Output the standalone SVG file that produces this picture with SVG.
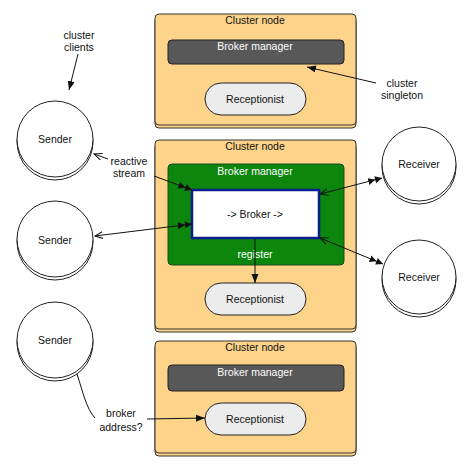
<svg xmlns="http://www.w3.org/2000/svg" width="474" height="474" viewBox="0 0 474 474">
<style>
text{font-family:"Liberation Sans",Arial,sans-serif;font-size:10.5px;text-anchor:middle;fill:#111}
.node{fill:#fed48b;stroke:#333;stroke-width:1}
.bar{fill:#585858;stroke:#222;stroke-width:1}
.green{fill:#0d860d;stroke:#1a4d1a;stroke-width:1}
.rec{fill:#ececec;stroke:#222;stroke-width:1}
.circ{fill:#fff;stroke:#222;stroke-width:1}
.w{fill:#fff}
.edge{fill:none;stroke:#111;stroke-width:1}
</style>
<defs>
<marker id="fa" markerUnits="userSpaceOnUse" markerWidth="10" markerHeight="8" refX="9" refY="3.5" orient="auto"><path d="M0,0 L9,3.5 L0,7 z" fill="#111"/></marker>
<marker id="da" markerUnits="userSpaceOnUse" markerWidth="16" markerHeight="8" refX="14" refY="3.5" orient="auto"><path d="M0,0 L7,3.5 L0,7 z M7,0 L14,3.5 L7,7 z" fill="#111"/></marker>
<marker id="oa" markerUnits="userSpaceOnUse" markerWidth="10" markerHeight="10" refX="8" refY="4" orient="auto-start-reverse"><path d="M0,0.5 L8,4 L0,7.5" fill="none" stroke="#111" stroke-width="1"/></marker>
</defs>

<g id="node1">
<rect class="node" x="155" y="17" width="201" height="111" rx="4"/>
<rect class="node" x="155" y="14" width="201" height="111" rx="4"/>
<text x="255" y="24">Cluster node</text>
<rect class="bar" x="168" y="40" width="176" height="24" rx="4"/>
<text class="w" x="255" y="50">Broker manager</text>
<rect class="rec" x="205" y="83" width="101" height="32" rx="16"/>
<text x="255" y="103">Receptionist</text>
</g>

<g id="node2">
<rect class="node" x="155" y="143" width="201" height="189" rx="4"/>
<rect class="node" x="155" y="140" width="201" height="189" rx="4"/>
<text x="255" y="150">Cluster node</text>
<rect class="green" x="168" y="164" width="176" height="101" rx="4"/>
<text class="w" x="255" y="175">Broker manager</text>
<rect x="192" y="190" width="127" height="48" fill="#fff" stroke="#0b1f8c" stroke-width="2.5"/>
<text x="255" y="218">-&gt; Broker -&gt;</text>
<text class="w" x="255" y="258">register</text>
<rect class="rec" x="205" y="283" width="101" height="32" rx="16"/>
<text x="255" y="303">Receptionist</text>
</g>

<g id="node3">
<rect class="node" x="155" y="344" width="201" height="112" rx="4"/>
<rect class="node" x="155" y="341" width="201" height="112" rx="4"/>
<text x="255" y="351">Cluster node</text>
<rect class="bar" x="168" y="365" width="176" height="26" rx="4"/>
<text class="w" x="255" y="376">Broker manager</text>
<rect class="rec" x="205" y="403" width="101" height="32" rx="16"/>
<text x="255" y="423">Receptionist</text>
</g>

<g id="sender1">
<circle class="circ" cx="55" cy="142" r="38"/>
<circle class="circ" cx="55" cy="139" r="38"/>
<text x="55" y="143">Sender</text>
</g>
<g id="sender2">
<circle class="circ" cx="55" cy="242" r="38"/>
<circle class="circ" cx="55" cy="239" r="38"/>
<text x="55" y="244">Sender</text>
</g>
<g id="sender3">
<circle class="circ" cx="55" cy="343" r="38"/>
<circle class="circ" cx="55" cy="340" r="38"/>
<text x="55" y="344">Sender</text>
</g>
<g id="receiver1">
<circle class="circ" cx="419" cy="167" r="37"/>
<circle class="circ" cx="419" cy="164" r="37"/>
<text x="419" y="168">Receiver</text>
</g>
<g id="receiver2">
<circle class="circ" cx="419" cy="280" r="37"/>
<circle class="circ" cx="419" cy="277" r="37"/>
<text x="419" y="281">Receiver</text>
</g>

<g id="connectors">
<path class="edge" d="M78,54 L69,90" marker-end="url(#fa)"/>
<path class="edge" d="M376,83 L307,67" marker-end="url(#fa)"/>
<path class="edge" d="M94,154 L108,159 M154,176 L192,190" marker-start="url(#oa)" marker-end="url(#da)"/>
<path class="edge" d="M95,236 L192,224" marker-start="url(#oa)" marker-end="url(#da)"/>
<path class="edge" d="M320,194 L382,178" marker-start="url(#oa)" marker-end="url(#da)"/>
<path class="edge" d="M320,238 L383,264" marker-start="url(#oa)" marker-end="url(#da)"/>
<path class="edge" d="M255,239 L255,283" marker-end="url(#fa)"/>
<path class="edge" d="M77,374 C83,392 86,408 95,418"/>
<path class="edge" d="M147,419 L205,418" marker-end="url(#fa)"/>
</g>

<g id="labels">
<text x="79" y="39">cluster</text>
<text x="79" y="51">clients</text>
<text x="402" y="87">cluster</text>
<text x="402" y="99">singleton</text>
<text x="129" y="165">reactive</text>
<text x="129" y="177">stream</text>
<text x="121" y="417">broker</text>
<text x="121" y="431">address?</text>
</g>
</svg>
